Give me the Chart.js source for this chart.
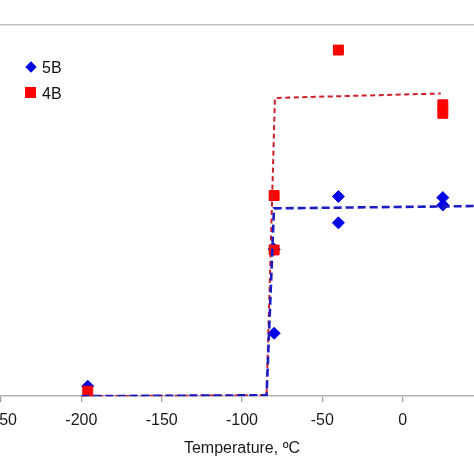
<!DOCTYPE html>
<html>
<head>
<meta charset="utf-8">
<script src="https://cdn.jsdelivr.net/npm/chart.js@4"></script>
<style>
  html, body { margin: 0; padding: 0; background: #fff; }
  #frame { position: relative; width: 474px; height: 474px; overflow: hidden; }
  #wrap { position: absolute; left: -29.3px; top: 0; width: 542px; height: 474px; }
  #legend { position: absolute; left: 25px; top: 55px; font: 16px "Liberation Sans", Arial, sans-serif; color: #111; }
  #legend div { height: 25.5px; line-height: 25.5px; white-space: nowrap; }
  #legend i { display: inline-block; vertical-align: middle; margin-right: 6px; }
  .dia { width: 8px; height: 8px; background: #0000e6; transform: rotate(45deg); margin-left: 2px; margin-top: -3px; margin-right: 7px !important; }
  .sq { width: 11px; height: 11px; background: #ff0000; margin-left: 0; margin-top: -3px; }
</style>
</head>
<body>
<div id="frame">
  <div id="wrap"><canvas id="chart"></canvas></div>
  <div id="legend">
    <div><i class="dia"></i>5B</div>
    <div><i class="sq"></i>4B</div>
  </div>
</div>
<script>
// measured points
const temps5B = [-196, -80, -80, -40, -40, 25, 25];
const energy5B = [5.4, 33.9, 79.2, 107.6, 93.4, 107.0, 103.0];
const temps4B = [-196, -80, -80, -40, 25, 25];
const energy4B = [2.7, 78.8, 108.1, 186.5, 157.0, 152.4];

// dashed trend lines
const trend5BTemps = [-200, -84.7, -80.1, 50];
const trend5BValues = [0, 0.5, 101.2, 102.5];
const trend4BTemps = [-200, -84.7, -79.5, 23.7];
const trend4BValues = [0, 0.5, 160.7, 163.1];

const xTicks = [-250, -200, -150, -100, -50, 0, 50];

const toPoints = (xs, ys) => xs.map((x, i) => ({ x: x, y: ys[i] }));

const font = { family: '"Liberation Sans", Arial, sans-serif', size: 16 };

new Chart(document.getElementById('chart'), {
    type: 'scatter',
    data: {
        datasets: [
            {
                label: '5B',
                data: toPoints(temps5B, energy5B),
                pointStyle: 'rectRot',
                pointRadius: 6,
                backgroundColor: '#0000e6',
                borderColor: '#0000e6',
                borderWidth: 1,
                order: 4
            },
            {
                label: '4B',
                data: toPoints(temps4B, energy4B),
                pointStyle: 'rect',
                pointRadius: 7,
                backgroundColor: '#ff0000',
                borderColor: '#ee0000',
                borderWidth: 1,
                order: 3
            },
            {
                label: '4B trend',
                type: 'line',
                data: toPoints(trend4BTemps, trend4BValues),
                borderColor: '#cc1f2a',
                borderWidth: 2,
                borderDash: [5, 3.5],
                pointRadius: 0,
                fill: false,
                order: 2
            },
            {
                label: '5B trend',
                type: 'line',
                data: toPoints(trend5BTemps, trend5BValues),
                borderColor: '#1c1cc4',
                borderWidth: 2.6,
                borderDash: [8, 4],
                pointRadius: 0,
                fill: false,
                order: 1
            }
        ]
    },
    options: {
        responsive: true,
        maintainAspectRatio: false,
        animation: false,
        layout: { padding: { left: 30, right: 30, top: 25, bottom: 11.4 } },
        plugins: {
            legend: { display: false },
            tooltip: { enabled: false }
        },
        scales: {
            x: {
                type: 'linear',
                position: 'bottom',
                min: -250,
                max: 50,
                afterBuildTicks: axis => { axis.ticks = xTicks.map(v => ({ value: v })); },
                grid: { drawOnChartArea: false, drawTicks: true, tickLength: 6, color: '#a6a6a6', lineWidth: 1.3 },
                border: { color: '#b3b3b3', width: 1.6 },
                ticks: { font: font, color: '#1a1a1a', padding: 9, maxRotation: 0 },
                title: { display: true, text: 'Temperature, ºC', font: font, color: '#1a1a1a', padding: { top: 0, bottom: 4 } }
            },
            xTop: {
                type: 'linear',
                position: 'top',
                min: -250,
                max: 50,
                grid: { display: false, drawTicks: false },
                border: { color: '#c0c0c0', width: 1.6 },
                ticks: { display: false }
            },
            y: {
                display: false,
                min: 0,
                max: 200
            }
        }
    }
});
</script>
</body>
</html>
